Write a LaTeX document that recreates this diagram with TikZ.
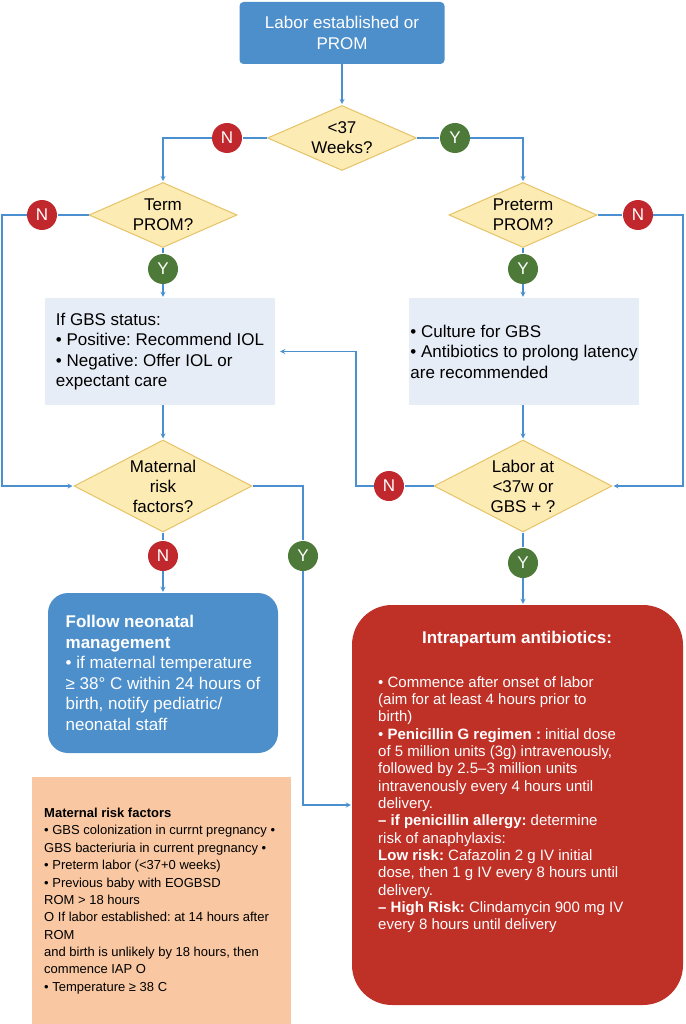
\documentclass[tikz,border=0pt]{standalone}
\usepackage{fontspec}
\setmainfont{Liberation Sans}
\frenchspacing
\usetikzlibrary{shapes.geometric, positioning, arrows}
\definecolor{flowblue}{HTML}{4D8FCB}
\definecolor{lineblue}{HTML}{4A8FD0}
\definecolor{qfill}{HTML}{FDEBB4}
\definecolor{qdraw}{HTML}{E5C366}
\definecolor{infofill}{HTML}{E7EDF6}
\definecolor{nored}{HTML}{C0282D}
\definecolor{yesgreen}{HTML}{4D7A38}
\definecolor{abxred}{HTML}{BF3027}
\definecolor{riskfill}{HTML}{F9C8A2}

\begin{document}
\begin{tikzpicture}[x=1pt, y=1pt, >=stealth, shorten >=1pt,
    flowtext/.style={font=\fontsize{17}{20.5}\selectfont},
    startbox/.style={flowtext, rectangle, rounded corners=4pt, fill=flowblue, text=white,
      minimum width=205pt, minimum height=62pt, align=center, inner sep=0pt},
    decision/.style={flowtext, diamond, fill=qfill, draw=qdraw, line width=1pt,
      inner sep=0pt, align=center, font=\fontsize{17}{20}\selectfont},
    infobox/.style={flowtext, rectangle, fill=infofill, minimum width=230pt,
      minimum height=107pt, align=left, inner sep=0pt},
    nobadge/.style={circle, fill=nored, text=white, minimum size=30pt, inner sep=0pt,
      font=\fontsize{17}{20}\selectfont},
    yesbadge/.style={nobadge, fill=yesgreen},
    wire/.style={draw=lineblue, line width=1.2pt},
    flow/.style={wire, ->}]
  \useasboundingbox (0,0) rectangle (685,-1024);

  % start and first question
  \node[startbox] (labor) at (342,-33) {Labor established or\\PROM};
  \node[decision, aspect=2.29, minimum width=149pt, minimum height=65pt] (wk) at (342,-138) {<37\\Weeks?};
  \node[nobadge] (n1) at (227,-138) {N};
  \node[yesbadge] (y1) at (455,-138) {Y};

  % PROM questions
  \node[decision, aspect=2.29, minimum width=148pt, minimum height=65pt] (term) at (163,-215) {Term\\PROM?};
  \node[decision, aspect=2.29, minimum width=148pt, minimum height=65pt] (pre) at (523,-215) {Preterm\\PROM?};
  \node[nobadge] (n2) at (42,-215) {N};
  \node[nobadge] (n3) at (638,-215) {N};
  \node[yesbadge] (y2) at (163,-269) {Y};
  \node[yesbadge] (y3) at (523,-269) {Y};

  % info boxes
  \node[infobox] (iol) at (160,-351.5) {If GBS status:\\
    • Positive: Recommend IOL\\
    • Negative: Offer IOL or\\
    expectant care};
  \node[infobox] (cult) at (524,-351.5) {• Culture for GBS\\
    • Antibiotics to prolong latency\\
    are recommended};

  % lower questions
  \node[decision, aspect=1.93, minimum width=178pt, minimum height=92pt] (risk) at (163,-486) {Maternal\\risk\\factors?};
  \node[decision, aspect=1.93, minimum width=178pt, minimum height=92pt] (lab) at (523,-486) {Labor at\\<37w or\\GBS + ?};
  \node[nobadge] (n4) at (163,-556) {N};
  \node[yesbadge] (y4) at (303,-556) {Y};
  \node[nobadge] (n5) at (389,-486) {N};
  \node[yesbadge] (y5) at (523,-563) {Y};

  % outcomes
  \node[flowtext, rectangle, rounded corners=20pt, fill=flowblue, text=white, align=left,
    minimum width=230pt, minimum height=160pt, inner sep=0pt] (neo) at (163,-673)
    {\textbf{Follow neonatal}\\\textbf{management}\\
     • if maternal temperature\\
     ≥ 38° C within 24 hours of\\
     birth, notify pediatric/\\
     neonatal staff};
  \node[rectangle, rounded corners=40pt, fill=abxred, minimum width=331pt,
    minimum height=400pt] (abx) at (517.5,-805) {};
  \node[text=white, font=\bfseries\fontsize{17}{20}\selectfont] (abxhead) at (517,-639) {Intrapartum antibiotics:};
  \node[text=white, anchor=north west, align=left, inner sep=0pt,
    font=\fontsize{15}{17.35}\selectfont] (abxbody) at (378,-676)
    {• Commence after onset of labor\\
     (aim for at least 4 hours prior to\\
     birth)\\
     • \textbf{Penicillin G regimen :} initial dose\\
     of 5 million units (3g) intravenously,\\
     followed by 2.5–3 million units\\
     intravenously every 4 hours until\\
     delivery.\\
     \textbf{– if penicillin allergy:} determine\\
     risk of anaphylaxis:\\
     \textbf{Low risk:} Cafazolin 2 g IV initial\\
     dose, then 1 g IV every 8 hours until\\
     delivery.\\
     \textbf{– High Risk:} Clindamycin 900 mg IV\\
     every 8 hours until delivery};

  % risk factor legend
  \node[rectangle, fill=riskfill, minimum width=259pt, minimum height=256pt] (riskbox) at (161.5,-905) {};
  \node[anchor=north west, align=left, inner sep=0pt,
    font=\fontsize{13}{17.35}\selectfont] (risktext) at (44,-808)
    {\textbf{Maternal risk factors}\\
     • GBS colonization in currnt pregnancy •\\
     GBS bacteriuria in current pregnancy •\\
     • Preterm labor (<37+0 weeks)\\
     • Previous baby with EOGBSD\\
     ROM > 18 hours\\
     O If labor established: at 14 hours after\\
     ROM\\
     and birth is unlikely by 18 hours, then\\
     commence IAP O\\
     • Temperature ≥ 38 C};

  \coordinate (lcorner) at (2,-486);
  \coordinate (rcorner) at (683,-486);
  \coordinate (back) at (356,-351.5);

  % connectors
  \draw[flow] (labor) -- (wk);
  \draw[wire] (wk.west) -- (n1);
  \draw[flow] (n1) -| (term.north);
  \draw[wire] (wk.east) -- (y1);
  \draw[flow] (y1) -| (pre.north);
  \draw[wire] (term.west) -- (n2);
  \draw[flow] (n2) -| (lcorner) -- (risk.west);
  \draw[wire] (pre.east) -- (n3);
  \draw[flow] (n3) -| (rcorner) -- (lab.east);
  \draw[wire] (term.south) -- (y2);
  \draw[flow] (y2) -- (y2 |- iol.north);
  \draw[wire] (pre.south) -- (y3);
  \draw[flow] (y3) -- (y3 |- cult.north);
  \draw[flow] (risk.north |- iol.south) -- (risk.north);
  \draw[flow] (lab.north |- cult.south) -- (lab.north);
  \draw[wire] (lab.west) -- (n5);
  \draw[flow, shorten >=5pt] (n5) -| (back) -- (iol.east);
  \draw[wire] (risk.south) -- (n4);
  \draw[flow] (n4) -- (neo.north);
  \draw[wire] (risk.east) -| (y4);
  \draw[flow] (y4) |- (abx);
  \draw[wire] (lab.south) -- (y5);
  \draw[flow] (y5) -- (y5 |- abx.north);
\end{tikzpicture}
\end{document}
